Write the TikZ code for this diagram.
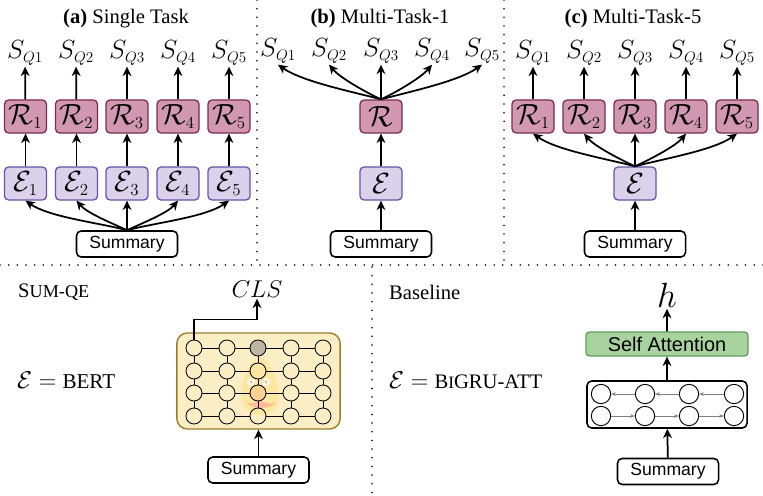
\documentclass[tikz,border=0pt]{standalone}
\usepackage{amsmath}
\usepackage{fontspec}
\setmainfont{Liberation Serif}
\setsansfont{Liberation Sans}
\usetikzlibrary{arrows.meta,positioning}
\DeclareMathSizes{24.88}{24.88}{14.4}{12}
\definecolor{regpurple}{RGB}{122,43,82}
\definecolor{regfill}{RGB}{210,152,178}
\definecolor{encviolet}{RGB}{106,81,168}
\definecolor{encfill}{RGB}{217,210,234}
\definecolor{bertgold}{RGB}{154,125,42}
\definecolor{bertfill}{RGB}{251,238,196}
\definecolor{berthead}{RGB}{251,231,160}
\definecolor{attgreen}{RGB}{95,158,87}
\definecolor{attfill}{RGB}{169,211,158}

\begin{document}
\begin{tikzpicture}[
    x=0.03cm, y=0.03cm,
    regbox/.style={draw=regpurple, fill=regfill, line width=1.1pt, rounded corners=3.5pt, minimum width=1.26cm, minimum height=0.99cm, inner sep=0pt, font=\Huge},
    encbox/.style={draw=encviolet, fill=encfill, line width=1.1pt, rounded corners=3.5pt, minimum width=1.26cm, minimum height=0.99cm, inner sep=0pt, font=\Huge},
    sumbox/.style={draw, fill=white, line width=1.3pt, rounded corners=4pt, minimum width=3.03cm, minimum height=0.78cm, inner sep=0pt, font=\sffamily\fontsize{15}{18}\selectfont},
    score/.style={inner sep=1pt, scale=0.9, font=\Huge},
    title/.style={font=\fontsize{17.6}{21}\selectfont},
    note/.style={anchor=west, inner sep=0pt, font=\fontsize{17.6}{21}\selectfont},
    arrow/.style={-{Stealth[length=8pt,width=7.5pt,inset=2.5pt]}, line width=1.5pt},
    fan/.style={arrow, looseness=0.7},
    sep/.style={line width=1.5pt, line cap=round, dash pattern=on 0pt off 7.4pt},
    gridnode/.style={draw, circle, line width=0.7pt, minimum size=0.48cm, inner sep=0pt},
    gridline/.style={line width=0.6pt},
    grunode/.style={draw, circle, line width=0.8pt, minimum size=0.58cm, inner sep=0pt},
    gruarrow/.style={-{Stealth[length=4pt,width=3pt]}, gray, line width=0.5pt}
]
\useasboundingbox (0,0) rectangle (763,495);

% Separators
\coordinate (hl) at (0,230);
\coordinate (hr) at (763,230);
\draw[sep] (hl) -- (hr);
\coordinate (va) at (257,495);
\coordinate (vb) at (257,233);
\draw[sep] (va) -- (vb);
\coordinate (vc) at (504,495);
\coordinate (vd) at (504,233);
\draw[sep] (vc) -- (vd);
\coordinate (ve) at (372,228);
\coordinate (vf) at (372,0);
\draw[sep] (ve) -- (vf);

% (a) Single Task
\node[title] (titlea) at (126,476) {\textbf{(a)} Single Task};
\node[score] (a-s1) at (25,442) {$S_{Q1}$};
\node[score] (a-s2) at (76,442) {$S_{Q2}$};
\node[score] (a-s3) at (127,442) {$S_{Q3}$};
\node[score] (a-s4) at (178,442) {$S_{Q4}$};
\node[score] (a-s5) at (229,442) {$S_{Q5}$};
\node[regbox] (a-r1) at (25.5,378.5) {$\mathcal{R}_1$};
\node[regbox] (a-r2) at (76.5,378.5) {$\mathcal{R}_2$};
\node[regbox] (a-r3) at (127,378.5) {$\mathcal{R}_3$};
\node[regbox] (a-r4) at (178,378.5) {$\mathcal{R}_4$};
\node[regbox] (a-r5) at (229,378.5) {$\mathcal{R}_5$};
\node[encbox] (a-e1) at (25.5,311.5) {$\mathcal{E}_1$};
\node[encbox] (a-e2) at (76.5,311.5) {$\mathcal{E}_2$};
\node[encbox] (a-e3) at (127,311.5) {$\mathcal{E}_3$};
\node[encbox] (a-e4) at (178,311.5) {$\mathcal{E}_4$};
\node[encbox] (a-e5) at (229,311.5) {$\mathcal{E}_5$};
\node[sumbox] (a-sum) at (127,251) {Summary};

\draw[arrow] (a-r1) -- (a-s1);
\draw[arrow] (a-r2) -- (a-s2);
\draw[arrow] (a-r3) -- (a-s3);
\draw[arrow] (a-r4) -- (a-s4);
\draw[arrow] (a-r5) -- (a-s5);
\draw[arrow] (a-e1) -- (a-r1);
\draw[arrow] (a-e2) -- (a-r2);
\draw[arrow] (a-e3) -- (a-r3);
\draw[arrow] (a-e4) -- (a-r4);
\draw[arrow] (a-e5) -- (a-r5);
\draw[fan] (a-sum.north) to[out=165,in=-35] (a-e1.south);
\draw[fan] (a-sum.north) to[out=155,in=-50] (a-e2.south);
\draw[arrow] (a-sum.north) -- (a-e3.south);
\draw[fan] (a-sum.north) to[out=25,in=-130] (a-e4.south);
\draw[fan] (a-sum.north) to[out=15,in=-145] (a-e5.south);

% (b) Multi-Task-1
\node[title] (titleb) at (380,476) {\textbf{(b)} Multi-Task-1};
\node[score] (b-s1) at (278,444) {$S_{Q1}$};
\node[score] (b-s2) at (329,444) {$S_{Q2}$};
\node[score] (b-s3) at (381,444) {$S_{Q3}$};
\node[score] (b-s4) at (432,444) {$S_{Q4}$};
\node[score] (b-s5) at (482,444) {$S_{Q5}$};
\node[regbox] (b-r) at (381,378.5) {$\mathcal{R}$};
\node[encbox] (b-e) at (381,311.5) {$\mathcal{E}$};
\node[sumbox] (b-sum) at (381,251) {Summary};

\draw[arrow] (b-sum) -- (b-e);
\draw[arrow] (b-e) -- (b-r);
\draw[fan] (b-r.north) to[out=165,in=-35] (b-s1.south);
\draw[fan] (b-r.north) to[out=155,in=-50] (b-s2.south);
\draw[arrow] (b-r.north) -- (b-s3.south);
\draw[fan] (b-r.north) to[out=25,in=-130] (b-s4.south);
\draw[fan] (b-r.north) to[out=15,in=-145] (b-s5.south);

% (c) Multi-Task-5
\node[title] (titlec) at (633,476) {\textbf{(c)} Multi-Task-5};
\node[score] (c-s1) at (533,442) {$S_{Q1}$};
\node[score] (c-s2) at (584,442) {$S_{Q2}$};
\node[score] (c-s3) at (635,442) {$S_{Q3}$};
\node[score] (c-s4) at (686,442) {$S_{Q4}$};
\node[score] (c-s5) at (737,442) {$S_{Q5}$};
\node[regbox] (c-r1) at (533,378.5) {$\mathcal{R}_1$};
\node[regbox] (c-r2) at (584,378.5) {$\mathcal{R}_2$};
\node[regbox] (c-r3) at (635,378.5) {$\mathcal{R}_3$};
\node[regbox] (c-r4) at (686,378.5) {$\mathcal{R}_4$};
\node[regbox] (c-r5) at (737,378.5) {$\mathcal{R}_5$};
\node[encbox] (c-e) at (635,311.5) {$\mathcal{E}$};
\node[sumbox] (c-sum) at (635,251) {Summary};

\draw[arrow] (c-r1) -- (c-s1);
\draw[arrow] (c-r2) -- (c-s2);
\draw[arrow] (c-r3) -- (c-s3);
\draw[arrow] (c-r4) -- (c-s4);
\draw[arrow] (c-r5) -- (c-s5);
\draw[arrow] (c-sum) -- (c-e);
\draw[fan] (c-e.north) to[out=165,in=-35] (c-r1.south);
\draw[fan] (c-e.north) to[out=155,in=-50] (c-r2.south);
\draw[arrow] (c-e.north) -- (c-r3.south);
\draw[fan] (c-e.north) to[out=25,in=-130] (c-r4.south);
\draw[fan] (c-e.north) to[out=15,in=-145] (c-r5.south);

% Sum-QE
\node[note] (sumqe) at (18,203) {S{\fontsize{15.5}{18}\selectfont UM-QE}};
\node[note] (bert) at (17,115) {\huge$\mathcal{E}=$ {\fontsize{18}{21}\selectfont BERT}};
\node[draw=bertgold, fill=bertfill, line width=1.2pt, rounded corners=9pt, minimum width=4.9cm, minimum height=2.88cm] (bertbox) at (258.5,114) {};

% Bert's head
\fill[berthead] (260,138) .. controls (250,136) and (240,112) .. (241,98) .. controls (243,84) and (252,80) .. (260,80) .. controls (270,80) and (278,86) .. (279,98) .. controls (279,112) and (270,136) .. (260,138);
\fill[white!70!berthead] (251,113) circle (4);
\fill[white!70!berthead] (266,113) circle (4);
\fill[gray!50] (251,113) circle (1.5);
\fill[gray!50] (266,113) circle (1.5);
\fill[red!35!orange!40] (246,93) .. controls (252,90) and (256,92) .. (260,95) .. controls (264,92) and (270,90) .. (276,93) .. controls (270,85) and (252,85) .. (246,93);

\node[gridnode] (g11) at (194,147) {};
\node[gridnode] (g12) at (227,147) {};
\node[gridnode, fill=gray!50!bertfill] (g13) at (258,147) {};
\node[gridnode] (g14) at (291,147) {};
\node[gridnode] (g15) at (323,147) {};
\node[gridnode] (g21) at (194,124) {};
\node[gridnode] (g22) at (227,124) {};
\node[gridnode] (g23) at (258,124) {};
\node[gridnode] (g24) at (291,124) {};
\node[gridnode] (g25) at (323,124) {};
\node[gridnode] (g31) at (194,102) {};
\node[gridnode] (g32) at (227,102) {};
\node[gridnode, fill=orange!25!bertfill] (g33) at (258,102) {};
\node[gridnode] (g34) at (291,102) {};
\node[gridnode] (g35) at (323,102) {};
\node[gridnode] (g41) at (194,79) {};
\node[gridnode] (g42) at (227,79) {};
\node[gridnode] (g43) at (258,79) {};
\node[gridnode] (g44) at (291,79) {};
\node[gridnode] (g45) at (323,79) {};

\draw[gridline] (g11) -- (g12) -- (g13) -- (g14) -- (g15);
\draw[gridline] (g21) -- (g22) -- (g23) -- (g24) -- (g25);
\draw[gridline] (g31) -- (g32) -- (g33) -- (g34) -- (g35);
\draw[gridline] (g41) -- (g42) -- (g43) -- (g44) -- (g45);
\draw[gridline] (g11) -- (g21) -- (g31) -- (g41);
\draw[gridline] (g12) -- (g22) -- (g32) -- (g42);
\draw[gridline] (g13) -- (g23) -- (g33) -- (g43);
\draw[gridline] (g14) -- (g24) -- (g34) -- (g44);
\draw[gridline] (g15) -- (g25) -- (g35) -- (g45);

\node[inner sep=1pt, font=\huge] (cls) at (257,206) {$CLS$};
\node[sumbox] (bert-sum) at (258.5,25) {Summary};
\draw[arrow] (g11.north) |- ++(63,20) -- (cls.south);
\draw[arrow] (bert-sum) -- (bertbox);

% Baseline
\node[note] (baseline) at (389,203) {Baseline};
\node[note] (bigru) at (389,115) {\huge$\mathcal{E}=$ {\fontsize{17.6}{21}\selectfont B{\fontsize{14.8}{18}\selectfont I}GRU-ATT}};
\node[draw, line width=1.3pt, rounded corners=4pt, minimum width=4.8cm, minimum height=1.41cm] (grubox) at (667,90.5) {};
\node[grunode] (u1) at (601,101) {};
\node[grunode] (u2) at (645,101) {};
\node[grunode] (u3) at (689,101) {};
\node[grunode] (u4) at (734,101) {};
\node[grunode] (d1) at (601,79) {};
\node[grunode] (d2) at (645,79) {};
\node[grunode] (d3) at (689,79) {};
\node[grunode] (d4) at (734,79) {};
\draw[gruarrow] (u4) -- (u3);
\draw[gruarrow] (u3) -- (u2);
\draw[gruarrow] (u2) -- (u1);
\draw[gruarrow] (d1) -- (d2);
\draw[gruarrow] (d2) -- (d3);
\draw[gruarrow] (d3) -- (d4);
\node[draw=attgreen, fill=attfill, line width=1.1pt, rounded corners=3pt, minimum width=4.86cm, minimum height=0.72cm, inner sep=0pt, font=\sffamily\fontsize{17}{20}\selectfont] (att) at (667,151) {Self Attention};
\node[inner sep=1pt, scale=1.2, font=\Huge] (hvec) at (667,200) {$h$};
\node[sumbox] (gru-sum) at (668,23.5) {Summary};
\draw[arrow] (gru-sum) -- (grubox);
\draw[arrow] (grubox) -- (att);
\draw[arrow] (att) -- (hvec);

\end{tikzpicture}
\end{document}
